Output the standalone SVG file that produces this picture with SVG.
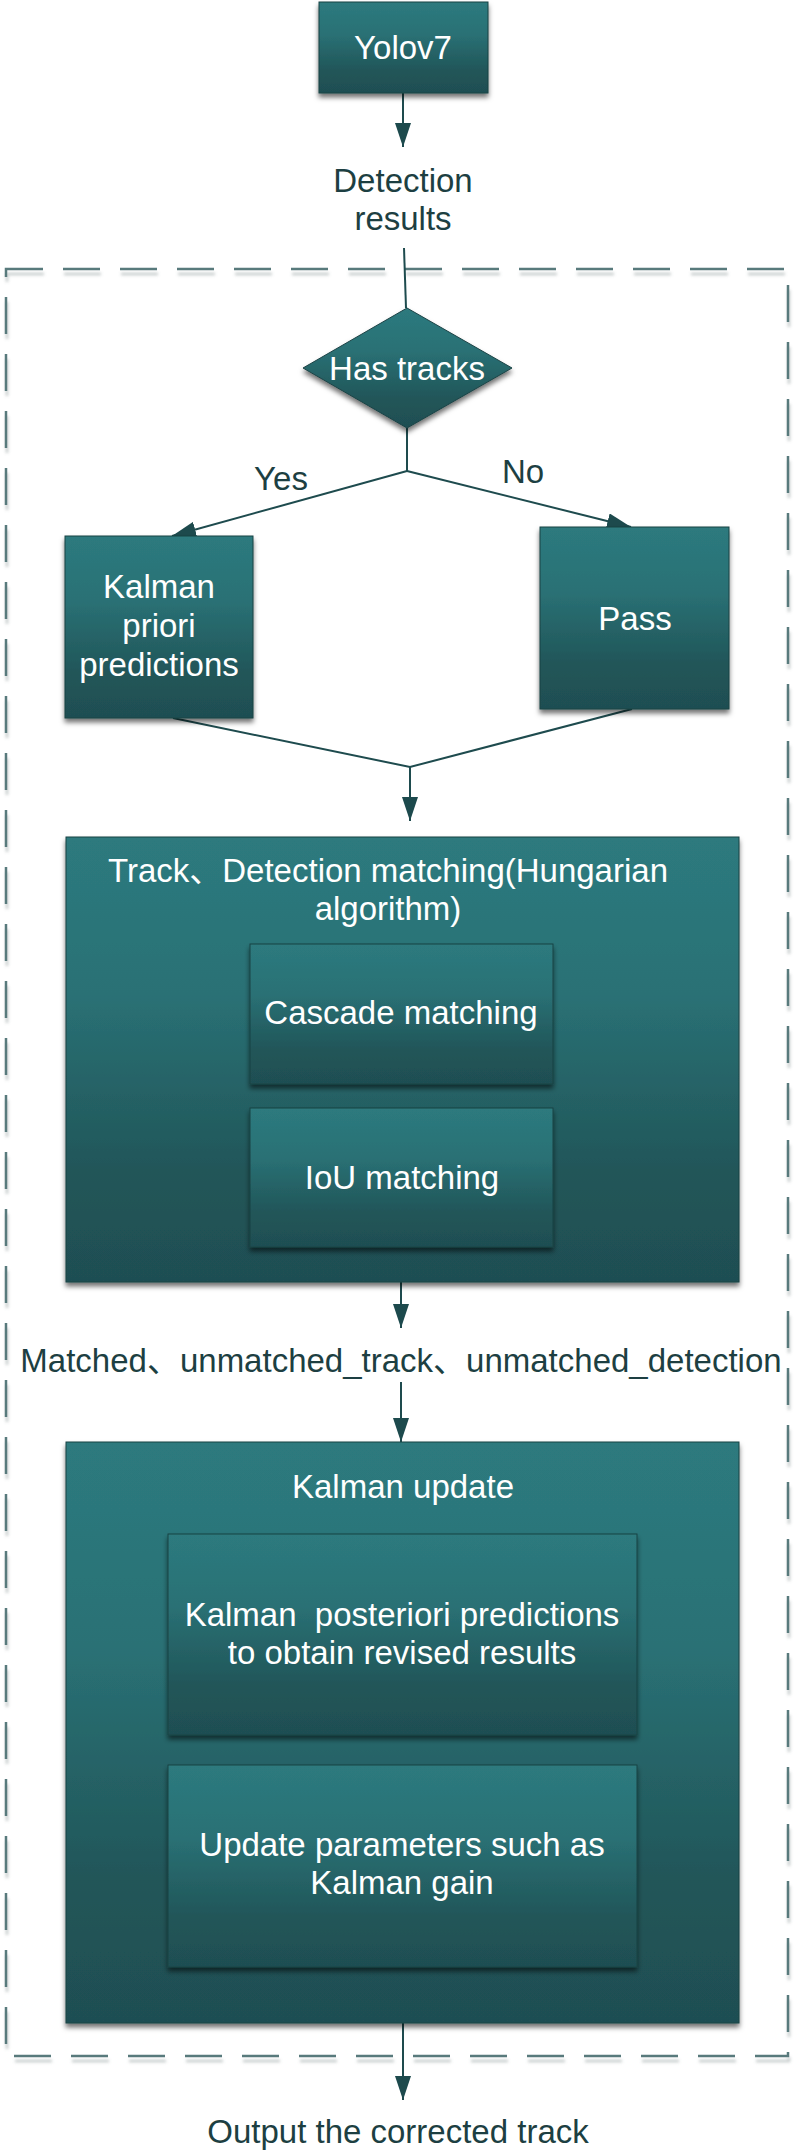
<svg xmlns="http://www.w3.org/2000/svg" width="795" height="2153" viewBox="0 0 795 2153">
<defs>
  <linearGradient id="g" x1="0" y1="0" x2="0" y2="1">
    <stop offset="0" stop-color="#2d7a7e"/>
    <stop offset="0.35" stop-color="#2a7175"/>
    <stop offset="0.75" stop-color="#215659"/>
    <stop offset="1" stop-color="#1f4e52"/>
  </linearGradient>
  <filter id="sh" x="-10%" y="-10%" width="120%" height="130%">
    <feDropShadow dx="0" dy="4" stdDeviation="2.5" flood-color="#000" flood-opacity="0.55"/>
  </filter>
  <filter id="dsh" x="-5%" y="-5%" width="110%" height="110%">
    <feDropShadow dx="1" dy="5" stdDeviation="1.5" flood-color="#7a8a8a" flood-opacity="0.45"/>
  </filter>
  <marker id="arr" viewBox="0 0 24 16" refX="24" refY="8" markerWidth="24" markerHeight="16" markerUnits="userSpaceOnUse" orient="auto">
    <path d="M0,0 L24,8 L0,16 Z" fill="#1d4a4d"/>
  </marker>
</defs>
<style>
  .box{fill:url(#g);stroke:#1b4245;stroke-width:1;filter:url(#sh)}
  .wt{font-family:"Liberation Sans","Noto Sans CJK SC",Arial,sans-serif;font-size:33px;fill:#ffffff;text-anchor:middle}
  .dt{font-family:"Liberation Sans","Noto Sans CJK SC",Arial,sans-serif;font-size:33px;fill:#1d3f42;text-anchor:middle}
  .ln{stroke:#1e4b4e;stroke-width:2;fill:none}
  .ar{stroke:#1e4b4e;stroke-width:2;fill:none;marker-end:url(#arr)}
  .dash{fill:none;stroke:#587a7c;stroke-width:2.5;stroke-dasharray:37 20;filter:url(#dsh)}
</style>

<g id="frame">
  <rect class="dash" x="6" y="269" width="782" height="1787"/>
</g>

<g id="connectors">
  <line class="ar" x1="403" y1="93" x2="403" y2="147"/>
  <line class="ln" x1="404" y1="248" x2="406" y2="308"/>
  <line class="ln" x1="407" y1="428" x2="407" y2="471"/>
  <line class="ar" x1="407" y1="471" x2="172" y2="536"/>
  <line class="ar" x1="407" y1="471" x2="631" y2="527"/>
  <polyline class="ln" points="173,718 410,767 632,709"/>
  <line class="ar" x1="410" y1="767" x2="410" y2="821"/>
  <line class="ar" x1="401" y1="1282" x2="401" y2="1328"/>
  <line class="ar" x1="401" y1="1382" x2="401" y2="1442"/>
  <line class="ar" x1="403" y1="2023" x2="403" y2="2100"/>
</g>

<g id="yolov7">
  <rect class="box" x="319" y="2" width="169" height="91"/>
  <text class="wt" x="403" y="59">Yolov7</text>
</g>

<g id="detection-results">
  <text class="dt" x="403" y="192">Detection</text>
  <text class="dt" x="403" y="230">results</text>
</g>

<g id="has-tracks">
  <path class="box" d="M407,308 L512,368 L407,428 L303,368 Z"/>
  <text class="wt" x="407" y="380">Has tracks</text>
</g>

<g id="label-yes">
  <text class="dt" x="281" y="490">Yes</text>
</g>
<g id="label-no">
  <text class="dt" x="523" y="483">No</text>
</g>

<g id="kalman-priori">
  <rect class="box" x="65" y="536" width="188" height="182"/>
  <text class="wt" x="159" y="598">Kalman</text>
  <text class="wt" x="159" y="637">priori</text>
  <text class="wt" x="159" y="676">predictions</text>
</g>

<g id="pass">
  <rect class="box" x="540" y="527" width="189" height="182"/>
  <text class="wt" x="635" y="630">Pass</text>
</g>

<g id="matching">
  <rect class="box" x="66" y="837" width="673" height="445"/>
  <text class="wt" x="388" y="882">Track、Detection matching(Hungarian</text>
  <text class="wt" x="388" y="920">algorithm)</text>
</g>

<g id="cascade">
  <rect class="box" x="250" y="944" width="303" height="140"/>
  <text class="wt" x="401" y="1024">Cascade matching</text>
</g>

<g id="iou">
  <rect class="box" x="250" y="1108" width="303" height="139"/>
  <text class="wt" x="402" y="1189">IoU matching</text>
</g>

<g id="matched-label">
  <text class="dt" x="401" y="1372">Matched、unmatched_track、unmatched_detection</text>
</g>

<g id="kalman-update">
  <rect class="box" x="66" y="1442" width="673" height="581"/>
  <text class="wt" x="403" y="1498">Kalman update</text>
</g>

<g id="posteriori">
  <rect class="box" x="168" y="1534" width="469" height="201"/>
  <text class="wt" x="402" y="1626" xml:space="preserve">Kalman  posteriori predictions</text>
  <text class="wt" x="402" y="1664">to obtain revised results</text>
</g>

<g id="update-params">
  <rect class="box" x="168" y="1765" width="469" height="202"/>
  <text class="wt" x="402" y="1856">Update parameters such as</text>
  <text class="wt" x="402" y="1894">Kalman gain</text>
</g>

<g id="output">
  <text class="dt" x="398" y="2143">Output the corrected track</text>
</g>
</svg>
